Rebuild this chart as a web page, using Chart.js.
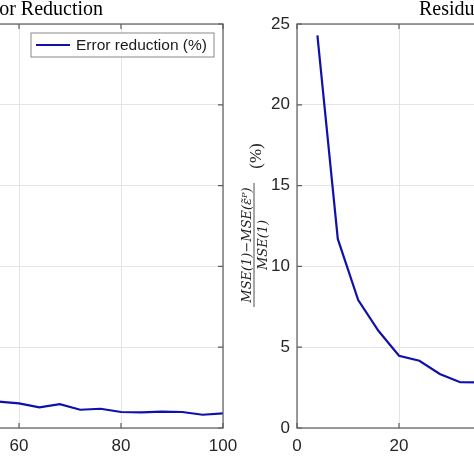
<!DOCTYPE html>
<html>
<head>
<meta charset="utf-8">
<script src="https://cdn.jsdelivr.net/npm/chart.js@4/dist/chart.umd.min.js"></script>
<style>
  html, body { margin: 0; padding: 0; background: #fff; }
  body { width: 474px; height: 474px; overflow: hidden; position: relative; }
  canvas { position: absolute; top: 0; }
  #errChart { left: -347px; }
  #resChart { left: 237px; }
</style>
</head>
<body>
<canvas id="errChart" width="600" height="474"></canvas>
<canvas id="resChart" width="600" height="474"></canvas>
<script>
// Data
const errX = [56, 60, 64, 68, 72, 76, 80, 84, 88, 92, 96, 100];
const errReduction = [1.63, 1.52, 1.28, 1.47, 1.13, 1.19, 0.99, 0.97, 1.01, 0.99, 0.82, 0.91];

const resX = [4, 8, 12, 16, 20, 24, 28, 32, 36];
const residualReduction = [24.3, 11.7, 7.92, 6.0, 4.47, 4.16, 3.34, 2.83, 2.82];

const xTicks = [0, 20, 40, 60, 80, 100];
const yTicks = [0, 5, 10, 15, 20, 25];

const lineColor = '#1010ac';
const tickFont = { family: '"Liberation Sans", Arial, sans-serif', size: 17 };

// MATLAB style box with inward tick marks
const boxPlugin = {
    id: 'matlabBox',
    afterDraw(chart) {
        const ctx = chart.ctx;
        const a = chart.chartArea;
        const sx = chart.scales.x, sy = chart.scales.y;
        ctx.save();
        ctx.strokeStyle = '#5c5c5c';
        ctx.lineWidth = 1.2;
        ctx.strokeRect(a.left, a.top, a.right - a.left, a.bottom - a.top);
        ctx.beginPath();
        xTicks.forEach(function(v) {
            const px = sx.getPixelForValue(v);
            ctx.moveTo(px, a.bottom); ctx.lineTo(px, a.bottom - 5);
            ctx.moveTo(px, a.top); ctx.lineTo(px, a.top + 5);
        });
        yTicks.forEach(function(v) {
            const py = sy.getPixelForValue(v);
            ctx.moveTo(a.left, py); ctx.lineTo(a.left + 5, py);
            ctx.moveTo(a.right, py); ctx.lineTo(a.right - 5, py);
        });
        ctx.stroke();

        const o = chart.options.plugins.matlabBox || {};
        // title
        if (o.title) {
            ctx.fillStyle = '#000';
            ctx.font = '20px "Liberation Serif", "Times New Roman", serif';
            ctx.textBaseline = 'alphabetic';
            ctx.textAlign = o.titleAlign;
            ctx.fillText(o.title, a.left + o.titleX, 15);
        }
        // legend
        if (o.legend) {
            const bx = a.right - 192, by = a.top + 9, bw = 183, bh = 24;
            ctx.fillStyle = '#fff';
            ctx.fillRect(bx, by, bw, bh);
            ctx.strokeStyle = '#8a8a8a';
            ctx.lineWidth = 1;
            ctx.strokeRect(bx, by, bw, bh);
            ctx.strokeStyle = lineColor;
            ctx.lineWidth = 2;
            ctx.beginPath();
            ctx.moveTo(bx + 5, by + bh / 2);
            ctx.lineTo(bx + 39, by + bh / 2);
            ctx.stroke();
            ctx.fillStyle = '#1a1a1a';
            ctx.font = '15.5px "Liberation Sans", Arial, sans-serif';
            ctx.textAlign = 'left';
            ctx.textBaseline = 'middle';
            ctx.fillText(o.legend, bx + 45, by + bh / 2 + 1);
        }
        // fraction y label
        if (o.fracLabel) {
            const cx = a.left - 43, cy = 245;
            ctx.translate(cx, cy);
            ctx.rotate(-Math.PI / 2);
            ctx.fillStyle = '#222';
            ctx.textAlign = 'center';
            ctx.textBaseline = 'alphabetic';
            ctx.font = 'italic 13px "DejaVu Serif", "Liberation Serif", serif';
            ctx.fillText('MSE(1)\u2212MSE(\u03B5\u0303\u1D3E)', 0, -3);
            ctx.fillText('MSE(1)', 0, 13);
            ctx.strokeStyle = '#222';
            ctx.lineWidth = 0.8;
            ctx.beginPath();
            ctx.moveTo(-62, 0); ctx.lineTo(62, 0);
            ctx.stroke();
            ctx.font = '17px "Liberation Serif", "Times New Roman", serif';
            ctx.textBaseline = 'middle';
            ctx.fillText('(%)', 89, 3);
        }
        ctx.restore();
    }
};

function makeChart(id, xs, ys, extra) {
    const ctx = document.getElementById(id).getContext('2d');
    return new Chart(ctx, {
        type: 'line',
        data: {
            datasets: [{
                data: xs.map(function(x, i) { return { x: x, y: ys[i] }; }),
                borderColor: lineColor,
                borderWidth: 2.2,
                pointRadius: 0,
                tension: 0,
                fill: false
            }]
        },
        options: {
            responsive: false,
            animation: false,
            devicePixelRatio: 1,
            layout: { padding: { top: 24, right: 30, left: 0, bottom: 0 } },
            plugins: {
                legend: { display: false },
                tooltip: { enabled: false },
                matlabBox: extra
            },
            scales: {
                x: {
                    type: 'linear', min: 0, max: 100,
                    afterBuildTicks: function(s) { s.ticks = xTicks.map(function(v) { return { value: v }; }); },
                    afterFit: function(s) { s.height = 46; },
                    grid: { color: '#e4e4e4', drawTicks: false },
                    border: { display: false },
                    ticks: { font: tickFont, color: '#262626', padding: 8, maxRotation: 0 }
                },
                y: {
                    type: 'linear', min: 0, max: 25,
                    afterBuildTicks: function(s) { s.ticks = yTicks.map(function(v) { return { value: v }; }); },
                    afterFit: function(s) { s.width = 60; },
                    grid: { color: '#e4e4e4', drawTicks: false },
                    border: { display: false },
                    ticks: { font: tickFont, color: '#262626', padding: 7 }
                }
            }
        },
        plugins: [boxPlugin]
    });
}

makeChart('errChart', errX, errReduction, {
    title: 'Relative Error Reduction', titleAlign: 'right', titleX: 390,
    legend: 'Error reduction (%)'
});
makeChart('resChart', resX, residualReduction, {
    title: 'Residual Error Reduction', titleAlign: 'left', titleX: 122,
    fracLabel: true
});
</script>
</body>
</html>
